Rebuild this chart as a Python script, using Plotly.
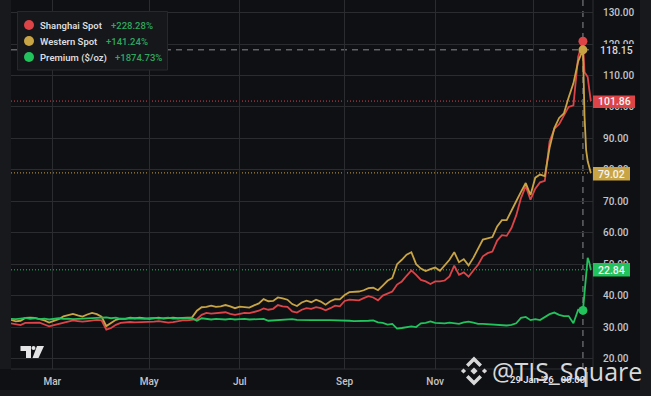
import pandas as pd
import plotly.graph_objects as go

W_PX, H_PX = 651, 396
PLOT_L, PLOT_R, PLOT_T, PLOT_B = 11, 593, 0, 369
dates = list(pd.date_range("2025-02-03", periods=121, freq="3D")) + list(pd.date_range("2026-01-30", periods=5, freq="D"))

shanghai = [31.2,30.8,30.6,31.3,31.3,31.3,31.4,30.8,30.2,30.6,31,31.4,31.6,32.1,31.9,31.7,31.9,32,32.3,32.1,
29.2,29.7,30.7,31.3,31.5,31.6,31.5,31.5,31.6,31.6,31.7,31.9,31.6,31.4,31.6,31.9,32.1,32.1,32.2,32.5,
33.9,34.5,34.3,34.5,34.6,34.7,34.2,33.9,34.2,34.5,34.4,34.8,35.2,35.9,35.5,35.8,37,36.6,36.4,35.0,
34.6,35.5,36,35.8,36.3,36,35.3,36,36.8,36.6,38.3,38.7,38.5,38.5,39.2,39.8,39.4,38.5,40,40.6,
41.3,43.5,44.5,46.3,48,46.6,45,44.5,43.7,44.5,44.5,44.8,46.1,49.5,46.6,47.4,46,48,49.8,52.5,
53.5,54,57.5,59.2,59,61.5,65.5,71,74.8,70.5,74,76,76.5,89,93,94.5,97.5,100,100.5,116,
120.9,111,110.3,109.5,105.5,101.86]
western = [32.3,31.8,32.0,32.9,33.0,32.9,32.5,32.1,31.4,32.0,32.5,33.4,33.9,34.2,33.7,33.3,34.0,34.5,34.1,33.3,
30.3,31.4,32.3,32.7,32.6,33.0,32.8,33.0,32.9,32.6,32.8,33.0,32.7,32.9,33.0,32.8,32.8,33.0,33.1,35.2,
36.3,36.4,36.8,36.4,36.6,37.0,36.6,36.0,36.5,36.4,36.2,36.9,37.5,38.9,38.2,38.3,39.4,39.1,38.7,37.3,
36.7,37.8,38.4,37.9,38.7,38.1,37.1,38.2,38.9,38.8,40.2,41.1,41.1,41.3,41.7,42.4,42.5,41.7,43.2,44.7,
45.6,50.0,51.4,53.0,53.8,50.0,48.6,47.8,48.4,48.9,47.9,49.5,51.4,53.8,50.6,51.6,49.6,52.0,55.0,57.8,
58.2,58.6,62.0,64.0,64.0,66.8,70.0,73.0,75.8,72.0,77.5,78.5,78.0,87,93.3,96.5,97.9,103,107.5,114.5,
118.15,97,86.3,82.7,80.5,79.02]
premium = [32.6,32.5,32.7,32.9,32.6,32.8,32.5,32.7,32.4,32.6,32.8,32.6,32.7,32.5,32.6,32.7,32.6,32.8,32.9,33.0,
33.1,32.8,33,32.6,32.7,32.6,32.8,32.7,32.6,32.8,32.9,32.7,32.8,33,32.7,32.8,32.7,32.8,32.8,32.0,
32.8,32.6,32.4,32.6,32.5,32.4,32.6,32.4,32.5,32.6,32.4,32.5,32.4,32.6,32.0,32.1,32.4,32.4,32.5,32.5,
32.3,32.2,32.3,32.2,32.2,32.3,32.2,32.2,32.2,32.1,32.1,32,31.9,31.9,31.8,32,32.1,31.5,31.3,30.8,
31,29.5,29.7,30,30.2,30,31.2,31.3,31.8,31.3,31.2,31.2,31.4,31.2,31,31.5,31.7,31.4,31,31,
30.9,30.7,30.7,30.6,30.5,30.7,31.2,32.9,33.2,32.2,32.5,32.2,33.2,34.1,34.6,33.9,33.5,33.5,31.2,35.5,
35.3,41,47,52,50.5,48.2]

names = ["Shanghai Spot", "Western Spot", "Premium ($/oz)"]
changes = ["+228.28%", "+141.24%", "+1874.73%"]
colors = ["#dc4448", "#c9a444", "#22c25c"]
tags = ["101.86", "79.02", "22.84"]
y_ticks = [20, 30, 40, 50, 60, 70, 80, 90, 100, 110, 120, 130]
x_tick_dates = ["2025-03-01", "2025-05-01", "2025-06-27", "2025-09-01", "2025-10-28", "2025-12-29"]
x_tick_text = ["Mar", "May", "Jul", "Sep", "Nov", ""]
cross_index = 120

def px(x): return (x - PLOT_L) / (PLOT_R - PLOT_L)
def py(y): return (PLOT_B - y) / (PLOT_B - PLOT_T)

def box(x0, y0, x1, y1, fill, line=None, layer="above"):
    return dict(type="rect", xref="paper", yref="paper", x0=px(x0), x1=px(x1), y0=py(y0), y1=py(y1),
                fillcolor=fill, line=dict(color=line or fill, width=1 if line else 0), layer=layer)

def poly(pts, fill):
    d = "M" + " L".join(f"{px(a):.5f},{py(b):.5f}" for a, b in pts) + " Z"
    return dict(type="path", xref="paper", yref="paper", path=d, fillcolor=fill, line=dict(width=0), layer="above")

fig = go.Figure()
for vals, name, col in [(shanghai, names[0], colors[0]), (western, names[1], colors[1]), (premium, names[2], colors[2])]:
    fig.add_trace(go.Scatter(x=dates, y=vals, mode="lines", name=name, line=dict(color=col, width=1.8), hoverinfo="skip"))
for vals, col in [(shanghai, colors[0]), (western, colors[1]), (premium, colors[2])]:
    fig.add_trace(go.Scatter(x=[dates[cross_index]], y=[vals[cross_index]], mode="markers",
                             marker=dict(color=col, size=9), hoverinfo="skip"))

shapes = [
    box(593, 0, 640, 390, "#0f1014", layer="below"),
    box(0, 369, 640, 390, "#0f1014", layer="below"),
]
# last-value lines
for vals, col in [(shanghai, colors[0]), (western, colors[1]), (premium, colors[2])]:
    shapes.append(dict(type="line", xref="paper", yref="y", x0=0, x1=1, y0=vals[-1], y1=vals[-1],
                       line=dict(color=col, width=1, dash="1px,2px"), layer="below"))
# crosshair
shapes.append(dict(type="line", xref="paper", yref="y", x0=0, x1=1, y0=western[cross_index], y1=western[cross_index],
                   line=dict(color="#8a8c90", width=1, dash="6px,5px"), layer="below"))
shapes.append(dict(type="line", xref="x", yref="paper", x0=dates[cross_index], x1=dates[cross_index], y0=0, y1=1,
                   line=dict(color="#8a8c90", width=1, dash="6px,5px"), layer="below"))
# axis borders
shapes.append(dict(type="line", xref="paper", yref="paper", x0=1, x1=1, y0=0, y1=1, line=dict(color="#2c2e33", width=1), layer="below"))
shapes.append(dict(type="line", xref="paper", yref="paper", x0=0, x1=1, y0=0, y1=0, line=dict(color="#2c2e33", width=1), layer="below"))
# crosshair price background
shapes.append(box(595, 44, 640, 57, "#0f1014"))
# value tags
shapes += [box(593, 95.5, 635, 108, colors[0]), box(593, 167, 630, 180.5, colors[1]), box(593, 263, 630, 276.5, colors[2])]
# legend
shapes.append(dict(type="rect", xref="paper", yref="paper", x0=px(17.5), x1=px(167.5), y0=py(11.5), y1=py(70),
                   fillcolor="#15171b", line=dict(color="#26282d", width=1), layer="above"))
for i, yc in enumerate([25, 41, 57]):
    shapes.append(dict(type="circle", xref="paper", yref="paper", x0=px(24), x1=px(34), y0=py(yc - 5), y1=py(yc + 5),
                       fillcolor=colors[i], line=dict(width=0), layer="above"))
# TradingView mark
tv = "#e4e4e6"
shapes.append(poly([(20.5, 346), (31, 346), (31, 358), (26, 358), (26, 351), (20.5, 351)], tv))
shapes.append(dict(type="circle", xref="paper", yref="paper", x0=px(31.5), x1=px(35.5), y0=py(346), y1=py(350), fillcolor=tv, line=dict(width=0), layer="above"))
shapes.append(poly([(37, 346), (44, 346), (38.5, 358), (32.5, 358)], tv))
# watermark logo
wm = "#d8d8d8"
def diamond(cx, cy, r): return poly([(cx - r, cy), (cx, cy - r), (cx + r, cy), (cx, cy + r)], wm)
shapes += [diamond(474, 371, 3.6), diamond(463.5, 371, 2.6), diamond(484.5, 371, 2.6)]
shapes.append(poly([(474, 356.5), (482, 364.5), (479.5, 367), (474, 361.5), (468.5, 367), (466, 364.5)], wm))
shapes.append(poly([(474, 385.5), (482, 377.5), (479.5, 375), (474, 380.5), (468.5, 375), (466, 377.5)], wm))
shapes.append(dict(type="line", xref="paper", yref="paper", x0=px(587), x1=px(587), y0=py(372), y1=py(387), line=dict(color="#d8d8d8", width=1), layer="above"))

FONT = "Roboto, 'Noto Sans', sans-serif"
def note(x, y, text, color, size=10.5, anchor="left", weight=500, family=FONT):
    return dict(xref="paper", yref="paper", x=px(x), y=py(y), text=text, showarrow=False, xanchor=anchor, yanchor="middle",
                font=dict(color=color, size=size, family=family, weight=weight), borderpad=0, borderwidth=0)

ann = []
pct_x = [111, 106, 115]
for i, yc in enumerate([25.5, 41.5, 57.5]):
    ann.append(note(40, yc, names[i], "#dcdcde", 9.5, weight=600))
    ann.append(note(pct_x[i], yc, changes[i], "#2fa85f", 9.5, weight=500))
ann.append(note(616, 50.5, f"{western[cross_index]:.2f}", "#d6d6d8", 10.5, anchor="center", weight=500))
ann.append(note(614, 102, tags[0], "#f4f4f4", 10.5, anchor="center"))
ann.append(note(611.5, 174, tags[1], "#f4f4f4", 10.5, anchor="center"))
ann.append(note(611.5, 270, tags[2], "#f4f4f4", 10.5, anchor="center"))
ann.append(note(492, 371, "@TIS_Square", "#d8d8d8", 25, weight=400, family="'Open Sans', sans-serif"))
ann.append(note(547, 379.5, "29 Jan '26   00:00", "#e2e2e4", 9.5, anchor="center", weight=600))

fig.update_layout(
    width=W_PX, height=H_PX, autosize=False,
    margin=dict(l=PLOT_L, r=W_PX - PLOT_R, t=PLOT_T, b=H_PX - PLOT_B),
    paper_bgcolor="#17191d", plot_bgcolor="#0f1014",
    showlegend=False, shapes=shapes, annotations=ann,
    font=dict(family=FONT, color="#c4c5c8", size=11),
    xaxis=dict(range=["2025-02-03", "2026-02-04 08:00"], tickmode="array", tickvals=x_tick_dates, ticktext=x_tick_text,
               showgrid=True, gridcolor="#2a2c30", gridwidth=1, zeroline=False, showline=False, ticks="outside",
               ticklen=3, tickcolor="rgba(0,0,0,0)", tickfont=dict(size=10, color="#c4c5c8", family=FONT, weight=500)),
    yaxis=dict(range=[16.66, 134], side="right", tickmode="array", tickvals=y_ticks, ticktext=[f"{v:.2f}" for v in y_ticks],
               showgrid=True, gridcolor="#2a2c30", gridwidth=1, zeroline=False, showline=False, ticks="outside",
               ticklen=7, tickcolor="rgba(0,0,0,0)", tickfont=dict(size=10, color="#c4c5c8", family=FONT, weight=500)),
)
fig.write_html("out.html", config={"displayModeBar": False},
               post_script="document.body.style.margin='0';document.documentElement.style.background='#17191d';")
